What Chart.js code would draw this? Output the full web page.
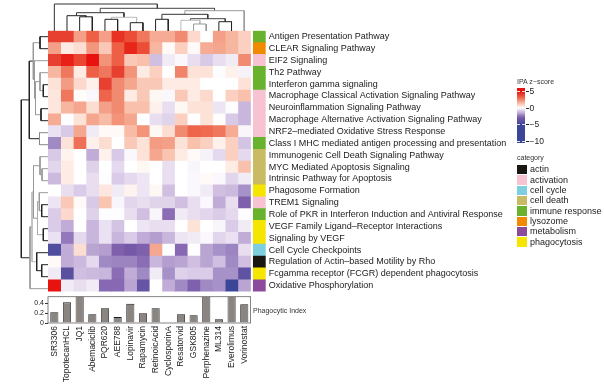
<!DOCTYPE html>
<html><head><meta charset="utf-8">
<script src="https://cdn.jsdelivr.net/npm/chart.js@4.4.1/dist/chart.umd.min.js"></script>
<style>
html,body{margin:0;padding:0;background:#fff;width:604px;height:392px;overflow:hidden;font-family:"Liberation Sans",Arial,sans-serif;}
canvas{position:absolute;}
.t{position:absolute;white-space:nowrap;color:#222;line-height:1;}
</style></head><body>
<canvas id="heat" width="520" height="300" style="left:0px;top:0px"></canvas>
<canvas id="dtop" width="270" height="31" style="left:0px;top:0px"></canvas>
<canvas id="dleft" width="50" height="300" style="left:0px;top:0px"></canvas>
<canvas id="bars" width="260" height="102" style="left:0px;top:290px"></canvas>
<div id="legend"></div>
<script>
// ---------------- DATA ----------------
const drugs = ["SR3306","TopotecanHCL","JQ1","Abemaciclib","PQR620","AEE788","Lopinavir","Rapamycin","RetinoicAcid","CyclosporinA","Resatorvid","GSK805","Perphenazine","ML314","Everolimus","Vorinostat"];

const pathways = ["Antigen Presentation Pathway","CLEAR Signaling Pathway","EIF2 Signaling","Th2 Pathway","Interferon gamma signaling","Macrophage Classical Activation Signaling Pathway","Neuroinflammation Signaling Pathway","Macrophage Alternative Activation Signaling Pathway","NRF2\u2013mediated Oxidative Stress Response","Class I MHC mediated antigen processing and presentation","Immunogenic Cell Death Signaling Pathway","MYC Mediated Apoptosis Signaling","Intrinsic Pathway for Apoptosis","Phagosome Formation","TREM1 Signaling","Role of PKR in Interferon Induction and Antiviral Response","VEGF Family Ligand\u2013Receptor Interactions","Signaling by VEGF","Cell Cycle Checkpoints","Regulation of Actin\u2013based Motility by Rho","Fcgamma receptor (FCGR) dependent phagocytosis","Oxidative Phosphorylation"];

const pathwayCategory = ["immune response","lysozome","activation","immune response","immune response","activation","activation","activation","activation","immune response","cell death","cell death","cell death","phagocytosis","activation","immune response","phagocytosis","phagocytosis","cell cycle","actin","phagocytosis","metabolism"];

// IPA z-score, one row per pathway, one column per drug
const zscore = [
 [4,4,2,3.2,2,4.3,3.6,2.8,1.8,1.8,2.5,0.8,0,2,1.6,1.0],
 [2,0.4,0.7,2.2,1.2,3.2,4.6,3.6,1.6,0.1,1.0,0.1,1.8,1.9,1.6,1.0],
 [4,4.7,3.8,5,2.3,3.2,1.2,1.4,-1.1,-0.3,-0.1,-0.5,-0.9,-0.5,-0.3,2.5],
 [1.6,2.8,0.4,3.2,2.8,4,2.3,0.4,1.0,0,2.6,0.6,0.6,-0.05,0.3,-0.2],
 [0.6,2.1,0.8,0.3,4,2.5,1.9,1.2,1.2,0.4,0.4,0.4,0,0,0,0.6],
 [0.5,2.8,0.05,-0.1,3.1,2.5,0.4,1.2,0.15,-0.1,1.2,0.4,0.8,0,1.0,1.4],
 [0.5,1.6,1.9,0.7,2,2.5,1.4,1.4,0.3,-0.5,0.15,0.6,0.6,-0.4,-0.05,-1.3],
 [1.8,-0.05,0.6,1.9,1.5,2.3,1.9,0,-0.5,-0.7,1.0,0,0.6,0.05,-0.9,-1.3],
 [-0.45,-0.9,1.9,-0.3,0.1,0.1,1.5,2.3,0.15,0.7,2.5,3.1,3.0,2.8,1.8,-0.15],
 [-2.0,0.6,2.9,0.3,0.7,0,1.2,0.6,2.1,2.0,0.6,1.4,1.0,0.3,1.0,-1.0],
 [-0.9,0.25,0,-1.5,0.3,-0.9,-0.1,0.6,1.9,1.3,0.4,0.1,-0.2,-0.6,1.0,-0.6],
 [-0.65,0.4,0,-0.75,0,-0.6,0,0.15,0,-0.5,0,-0.15,0,0,0.4,1.4],
 [-1.2,0.4,0,-0.5,-0.05,-0.85,-0.6,-0.4,0,-0.5,0,-0.1,0.1,-0.1,-0.65,-0.3],
 [0,-0.5,-0.85,-0.5,0.5,-0.3,0.25,-0.4,0.15,-1.1,0,-0.1,-0.3,-1.1,-1.2,-1.9],
 [-0.4,1.2,0.1,-0.9,1.3,-0.15,-0.65,-0.5,-0.7,-0.7,-1.1,-0.5,-0.1,-1.5,-0.5,-2.8],
 [-0.85,0.8,0,-0.75,-0.05,-0.05,-0.5,-1.1,-0.15,-2.5,-0.3,-0.5,-0.65,-0.85,-0.6,-0.05],
 [-0.85,-1.5,0,-1.3,-0.45,-1.0,0,-0.4,-0.5,-0.5,0,0.6,0,-0.15,-0.85,-0.3],
 [-0.45,-2.3,-0.6,-1.3,-0.45,-1.3,-0.85,-1.5,-1.7,-1.3,-0.4,-0.3,-0.1,-0.65,-0.45,-1.5],
 [-4.3,-1.5,0.7,-1.6,-1.7,-2.8,-3.0,-2.8,1.9,-0.05,-2.6,-0.02,-1.6,-1.9,-2.1,-0.5],
 [0.1,-1.5,-1.2,-0.6,-2.0,-2.1,-2.1,-2.5,-1.3,-1.7,-1.6,-1.1,-1.6,-1.1,-2.0,-1.1],
 [-0.3,-4.0,-1.1,-1.2,-1.3,-2.5,-1.5,-2.0,-0.3,-1.9,-0.75,-0.85,-0.85,-1.9,-1.9,-3.8],
 [5,-0.3,-0.5,-0.3,-2.6,-2.6,-1.6,-3.5,0,-1.5,-2.0,-2.8,-2.0,-1.9,-6,-1.6]
];

const phagocyticIndex = [0.22,0.42,0.6,0.18,0.30,0.12,0.39,0.20,0.30,0,0.18,0.16,0.6,0.075,0.6,0.38];
const phagoTicks = [0,0.2,0.4];

const categoryNames = ["actin","activation","cell cycle","cell death","immune response","lysozome","metabolism","phagocytosis"];
const zLegendTicks = [5,0,-5,-10];

// dendrogram merges (R hclust style: -k = leaf k, +k = merge k), with merge height
const colMerge = [
 [-3,-4,14.2],[-2,1,15.3],[-5,-6,11.7],[-7,-8,8.3],[3,4,13.7],[2,5,18.3],
 [-9,-10,11.7],[-12,-13,7],[-11,8,10.7],[-14,-15,9.3],[9,10,12.3],[7,11,16.7],
 [12,-16,20.3],[6,13,22.7],[-1,14,27]
];
const rowMerge = [
 [-1,-2,8],[-5,-6,4.7],[-4,2,8],[-7,-8,7],[3,4,12.5],[-3,5,13.5],[1,6,14.7],
 [-9,-10,8.5],[7,8,18.7],[-12,-13,6],[-11,10,8],[-15,-16,6.3],[-14,12,8.7],
 [-17,-18,4.7],[13,14,10.5],[11,15,14.5],[-20,-21,6.3],[-19,17,11.3],[16,18,16],
 [19,-22,18],[9,20,26.7]
];

// ---------------- STYLES ----------------
const FONT = '"Liberation Sans", Arial, sans-serif';
const categoryColors = {"actin":"#1a1713","activation":"#f7c3d2","cell cycle":"#7dcfe0","cell death":"#c9bb64","immune response":"#68b22e","lysozome":"#f18a00","metabolism":"#8b4a9b","phagocytosis":"#f6e500"};
const zStops = [[-10,'#3b4698'],[-5,'#3b4698'],[-4,'#5a50a0'],[-3,'#7658a8'],[-2.5,'#8a6db5'],[-2,'#a08ac4'],[-1.5,'#c0acd6'],[-1,'#d4c4e4'],[-0.5,'#e8def0'],[0,'#ffffff'],[0.5,'#fde6dd'],[1,'#fbd0c0'],[1.5,'#f8bca6'],[2,'#f4a088'],[2.5,'#f08a70'],[3,'#ee6a50'],[3.5,'#ec5038'],[4,'#e84030'],[4.5,'#e82a1c'],[5,'#e8120f']];
const colShade = ['#222','#222','#222','#222','#bbb','#333','#222','#999','#bbb','#222','#444','#333','#999','#444','#333'];
const rowShade = ['#222','#222','#999','#222','#999','#999','#999','#888','#222','#999','#999','#222','#999','#222','#aaa','#999','#222','#222','#bbb','#999','#222'];

function hex2rgb(h){return [parseInt(h.slice(1,3),16),parseInt(h.slice(3,5),16),parseInt(h.slice(5,7),16)];}
function zColor(v){
  v = Math.max(zStops[0][0], Math.min(zStops[zStops.length-1][0], v));
  for (let i=0;i<zStops.length-1;i++){
    const [a,ca]=zStops[i],[b,cb]=zStops[i+1];
    if (v>=a && v<=b){
      const t = b===a?0:(v-a)/(b-a);
      const A=hex2rgb(ca),B=hex2rgb(cb);
      return 'rgb('+A.map((x,k)=>Math.round(x+(B[k]-x)*t)).join(',')+')';
    }
  }
  return '#fff';
}

const common = {responsive:false, animation:false, events:[], plugins:{legend:{display:false}, tooltip:{enabled:false}}};

// ---------------- HEATMAP (stacked horizontal bars) ----------------
const gapW = 0.22, catW = 0.98;
const heatDatasets = drugs.map((d,j)=>({
  label:d, data: pathways.map(()=>1),
  backgroundColor: pathways.map((p,i)=>zColor(zscore[i][j])),
  borderWidth:0, barPercentage:1, categoryPercentage:1
}));
heatDatasets.push({label:'gap', data: pathways.map(()=>gapW), backgroundColor:'rgba(0,0,0,0)', borderWidth:0, barPercentage:1, categoryPercentage:1, inflateAmount:0});
heatDatasets.push({label:'category', data: pathways.map(()=>catW), backgroundColor: pathwayCategory.map(c=>categoryColors[c]), borderWidth:0, barPercentage:1, categoryPercentage:1});

new Chart(document.getElementById('heat'), {
  type:'bar',
  data:{labels: pathways, datasets: heatDatasets},
  options:Object.assign({}, common, {
    indexAxis:'y',
    layout:{padding:{left:48, top:30.7, bottom:5.3, right:0}},
    scales:{
      x:{type:'linear', stacked:true, min:0, max:16+gapW+catW, display:false},
      y:{stacked:true, position:'right', grid:{display:false, drawTicks:false}, border:{display:false},
         ticks:{autoSkip:false, padding:3, color:'#1a1a1a', font:{family:FONT, size:9}},
         afterFit: s => { s.width = 254.3; }}
    }
  })
});

// ---------------- DENDROGRAMS ----------------
function dendro(merge, swap){
  const pos = [], hgt = [];
  const P = k => k<0 ? (-k-1)+0.5 : pos[k-1];
  const H = k => k<0 ? 0 : hgt[k-1];
  const segs = [];
  merge.forEach(([l,r,h],k)=>{
    const pl=P(l), pr=P(r), hl=H(l), hr=H(r);
    pos[k]=(pl+pr)/2; hgt[k]=h;
    const pts = [[pl,hl],[pl,h],[pr,h],[pr,hr]];
    segs.push(pts.map(([p,v])=> swap ? {x:v,y:p} : {x:p,y:v}));
  });
  return segs;
}
function lineSets(segs, shades){
  return segs.map((s,k)=>({data:s, borderColor:shades[k], borderWidth:1, pointRadius:0, tension:0, fill:false, clip:false}));
}
new Chart(document.getElementById('dtop'), {
  type:'line',
  data:{datasets: lineSets(dendro(colMerge,false), colShade)},
  options:Object.assign({}, common, {
    layout:{padding:{left:48, right:270-265.7, top:4, bottom:0}},
    scales:{x:{type:'linear', min:0, max:16+gapW+catW, display:false}, y:{type:'linear', min:0, max:27, display:false}}
  })
});
new Chart(document.getElementById('dleft'), {
  type:'line',
  data:{datasets: lineSets(dendro(rowMerge,true), rowShade)},
  options:Object.assign({}, common, {
    layout:{padding:{left:21.3, right:2, top:30.7, bottom:5.3}},
    scales:{x:{type:'linear', min:0, max:26.7, reverse:true, display:false}, y:{type:'linear', min:0, max:pathways.length, reverse:true, display:false}}
  })
});

// ---------------- PHAGOCYTIC INDEX BARS ----------------
const boxPlugin = {id:'box', afterDraw(c){const a=c.chartArea, x=c.ctx; x.save(); x.strokeStyle='#666'; x.lineWidth=0.8; x.strokeRect(a.left, a.top, a.right-a.left, a.bottom-a.top); x.restore();}};
new Chart(document.getElementById('bars'), {
  type:'bar',
  data:{labels: drugs, datasets:[{data: phagocyticIndex, backgroundColor:'#8a8580', borderColor:'#1a1a1a', borderWidth:0.8, barPercentage:0.64, categoryPercentage:1}]},
  options:Object.assign({}, common, {
    layout:{padding:{left:0, right:9.4, top:6.7, bottom:0}},
    scales:{
      x:{grid:{display:false, drawTicks:false}, border:{display:false},
         ticks:{autoSkip:false, maxRotation:90, minRotation:90, padding:3, color:'#1a1a1a', font:{family:FONT, size:8.5}},
         afterFit: s => { s.height = 69; }},
      y:{min:0, max:0.535, grid:{display:true, drawOnChartArea:false, drawTicks:true, tickLength:3, color:'#333'}, border:{display:false},
         afterBuildTicks: s => { s.ticks = phagoTicks.map(v=>({value:v})); },
         ticks:{padding:1, color:'#1a1a1a', font:{family:FONT, size:7}, callback: v => v===0 ? '0' : v.toFixed(1)},
         afterFit: s => { s.width = 48; }}
    }
  }),
  plugins:[boxPlugin]
});

// ---------------- LEGENDS (HTML) ----------------
const L = document.getElementById('legend');
function add(html){ L.insertAdjacentHTML('beforeend', html); }
add('<div class="t" style="left:253px;top:306.5px;font-size:7px;color:#333">Phagocytic Index</div>');
add('<div class="t" style="left:517px;top:78px;font-size:7px;color:#333">IPA z\u2212score</div>');
// colour bar: value -> y
const zY = v => 108.3 - v*3.33;
const top0 = 88.3, bot0 = 143.3, hh = bot0-top0;
const pct = v => ((zY(v)-top0)/hh*100).toFixed(1)+'%';
const grad = 'linear-gradient(to bottom,' + [6,5,4,3,2,1,0.5,0,-0.5,-1,-1.5,-2,-2.5,-3,-4,-5,-10.5].map(v=>zColor(v)+' '+pct(v)).join(',') + ')';
add('<div style="position:absolute;left:517.3px;top:'+top0+'px;width:7.7px;height:'+hh+'px;background:'+grad+'"></div>');
zLegendTicks.forEach(v=>{
  const y = zY(v);
  if (v!==0) add('<div style="position:absolute;left:517.3px;top:'+(y-0.5)+'px;width:7.7px;height:0;border-top:1px dashed rgba(255,255,255,0.85)"></div>');
  add('<div style="position:absolute;left:525.5px;top:'+(y-0.5)+'px;width:3px;height:1px;background:#222"></div>');
  add('<div class="t" style="left:529.5px;top:'+(y-4.5)+'px;font-size:8.5px">'+(v<0?'\u2212'+(-v):v)+'</div>');
});
add('<div class="t" style="left:517px;top:153.5px;font-size:7px;color:#333">category</div>');
categoryNames.forEach((c,i)=>{
  const y = 165 + i*10.33;
  add('<div style="position:absolute;left:517.3px;top:'+y+'px;width:9.4px;height:9.4px;background:'+categoryColors[c]+'"></div>');
  add('<div class="t" style="left:530px;top:'+(y+0.3)+'px;font-size:9px">'+c+'</div>');
});
</script>
</body></html>
